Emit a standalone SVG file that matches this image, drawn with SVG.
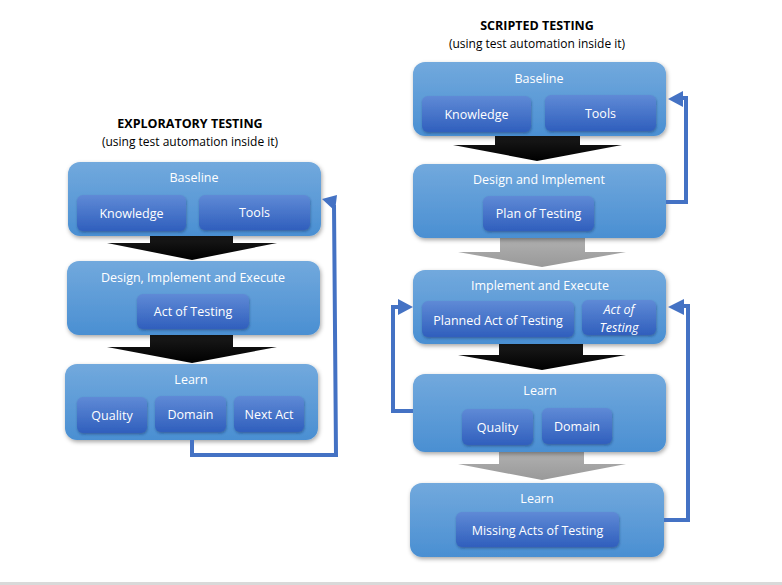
<svg xmlns="http://www.w3.org/2000/svg" width="782" height="585" viewBox="0 0 782 585">
<defs>
<linearGradient id="gOuter" x1="0" y1="0" x2="0" y2="1">
<stop offset="0" stop-color="#72a9dd"/>
<stop offset="1" stop-color="#4a8fd2"/>
</linearGradient>
<linearGradient id="gInner" x1="0" y1="0" x2="0" y2="1">
<stop offset="0" stop-color="#5f8ad6"/>
<stop offset="1" stop-color="#305fbd"/>
</linearGradient>
<linearGradient id="gBlack" x1="0" y1="0" x2="0" y2="1">
<stop offset="0" stop-color="#1a1a1a"/>
<stop offset="1" stop-color="#000000"/>
</linearGradient>
<linearGradient id="gGray" x1="0" y1="0" x2="0" y2="1">
<stop offset="0" stop-color="#b0b0b0"/>
<stop offset="1" stop-color="#999999"/>
</linearGradient>
<filter id="sh" x="-10%" y="-10%" width="125%" height="135%">
<feDropShadow dx="1" dy="2" stdDeviation="2" flood-color="#000" flood-opacity="0.35"/>
</filter>
<filter id="sh2" x="-10%" y="-10%" width="125%" height="140%">
<feDropShadow dx="0.5" dy="1.5" stdDeviation="1.2" flood-color="#1a2f66" flood-opacity="0.45"/>
</filter>
</defs>
<style>
.outer{fill:url(#gOuter);filter:url(#sh);}
.inner{fill:url(#gInner);filter:url(#sh2);}
.t{font-family:"Open Sans","Noto Sans",sans-serif;font-size:12.5px;fill:#ffffff;text-anchor:middle;}
.ti{font-style:italic;}
.title{font-family:"Open Sans","Noto Sans",sans-serif;font-size:12.5px;font-weight:bold;fill:#000;text-anchor:middle;}
.sub{font-family:"Open Sans","Noto Sans",sans-serif;font-size:12px;fill:#000;text-anchor:middle;}
.blk{fill:url(#gBlack);}
.gry{fill:url(#gGray);}
.conn{fill:none;stroke:#4472c4;stroke-width:4;}
.head{fill:#4472c4;}
</style>
<rect x="0" y="0" width="782" height="585" fill="#ffffff"/>
<rect x="0" y="582" width="782" height="3" fill="#d9d9d9"/>

<g id="titles">
<text class="title" x="190" y="128">EXPLORATORY TESTING</text>
<text class="sub" x="190" y="146">(using test automation inside it)</text>
<text class="title" x="537" y="30">SCRIPTED TESTING</text>
<text class="sub" x="537" y="48">(using test automation inside it)</text>
</g>

<g id="arrows-block">
<polygon class="blk" points="150,236 233,236 233,243 277,243 192,260 107,243 150,243"/>
<polygon class="blk" points="150,335 233,335 233,347 277,347 192,363 107,347 150,347"/>
<polygon class="blk" points="495,136 580,136 580,145 622,145 537,161 453,145 495,145"/>
<polygon class="gry" points="500,238 585,238 585,252 626,252 542,267 458,252 500,252"/>
<polygon class="blk" points="499,344 583,344 583,355 626,355 542,370 458,355 499,355"/>
<polygon class="gry" points="499,452 584,452 584,464 626,464 542,480 458,464 499,464"/>
</g>

<g id="ex-baseline">
<rect class="outer" x="68" y="162" width="253" height="74" rx="12"/>
<text class="t" x="194" y="182">Baseline</text>
<rect class="inner" x="77" y="195" width="109" height="36" rx="6"/>
<text class="t" x="131.5" y="218">Knowledge</text>
<rect class="inner" x="199" y="195" width="111" height="35" rx="6"/>
<text class="t" x="254.5" y="217">Tools</text>
</g>

<g id="ex-design">
<rect class="outer" x="67" y="261" width="253" height="74" rx="12"/>
<text class="t" x="193" y="282">Design, Implement and Execute</text>
<rect class="inner" x="137" y="294" width="112" height="35" rx="6"/>
<text class="t" x="193" y="316">Act of Testing</text>
</g>

<g id="ex-learn">
<rect class="outer" x="65" y="364" width="253" height="76" rx="12"/>
<text class="t" x="191" y="384">Learn</text>
<rect class="inner" x="77" y="397" width="70" height="36" rx="6"/>
<text class="t" x="112" y="420">Quality</text>
<rect class="inner" x="155" y="396" width="71" height="36" rx="6"/>
<text class="t" x="190.5" y="419">Domain</text>
<rect class="inner" x="234" y="396" width="70" height="36" rx="6"/>
<text class="t" x="269" y="419">Next Act</text>
</g>

<g id="sc-baseline">
<rect class="outer" x="413" y="62" width="253" height="74" rx="12"/>
<text class="t" x="539" y="83">Baseline</text>
<rect class="inner" x="422" y="96" width="109" height="36" rx="6"/>
<text class="t" x="476.5" y="119">Knowledge</text>
<rect class="inner" x="545" y="95" width="111" height="36" rx="6"/>
<text class="t" x="600.5" y="118">Tools</text>
</g>

<g id="sc-design">
<rect class="outer" x="413" y="164" width="253" height="74" rx="12"/>
<text class="t" x="539" y="184">Design and Implement</text>
<rect class="inner" x="483" y="196" width="111" height="35" rx="6"/>
<text class="t" x="538.5" y="218">Plan of Testing</text>
</g>

<g id="sc-implement">
<rect class="outer" x="413" y="270" width="253" height="74" rx="12"/>
<text class="t" x="540" y="290">Implement and Execute</text>
<rect class="inner" x="422" y="301" width="152" height="36" rx="6"/>
<text class="t" x="498" y="325">Planned Act of Testing</text>
<rect class="inner" x="582" y="300" width="74" height="35" rx="6"/>
<text class="t ti" x="619" y="314">Act of</text>
<text class="t ti" x="619" y="332">Testing</text>
</g>

<g id="sc-learn">
<rect class="outer" x="413" y="374" width="253" height="78" rx="12"/>
<text class="t" x="540" y="395">Learn</text>
<rect class="inner" x="462" y="409" width="71" height="36" rx="6"/>
<text class="t" x="497.5" y="432">Quality</text>
<rect class="inner" x="542" y="408" width="70" height="36" rx="6"/>
<text class="t" x="577" y="431">Domain</text>
</g>

<g id="sc-learn2">
<rect class="outer" x="410" y="483" width="254" height="74" rx="12"/>
<text class="t" x="537" y="503">Learn</text>
<rect class="inner" x="456" y="512" width="163" height="35" rx="6"/>
<text class="t" x="537.5" y="535">Missing Acts of Testing</text>
</g>

<g id="connectors">
<polyline class="conn" points="192,440 192,455 336,455 334,205"/>
<polygon class="head" points="322,199 337,195 335,211"/>
<polyline class="conn" points="666,202 686,202 686,98 680,98"/>
<polygon class="head" points="668,99 683,91 683,107"/>
<polyline class="conn" points="664,520 688,520 688,306 682,306"/>
<polygon class="head" points="668,307 684,299 684,315"/>
<polyline class="conn" points="413,411 393,411 393,307 399,307"/>
<polygon class="head" points="413,307 398,299 398,315"/>
</g>
</svg>
